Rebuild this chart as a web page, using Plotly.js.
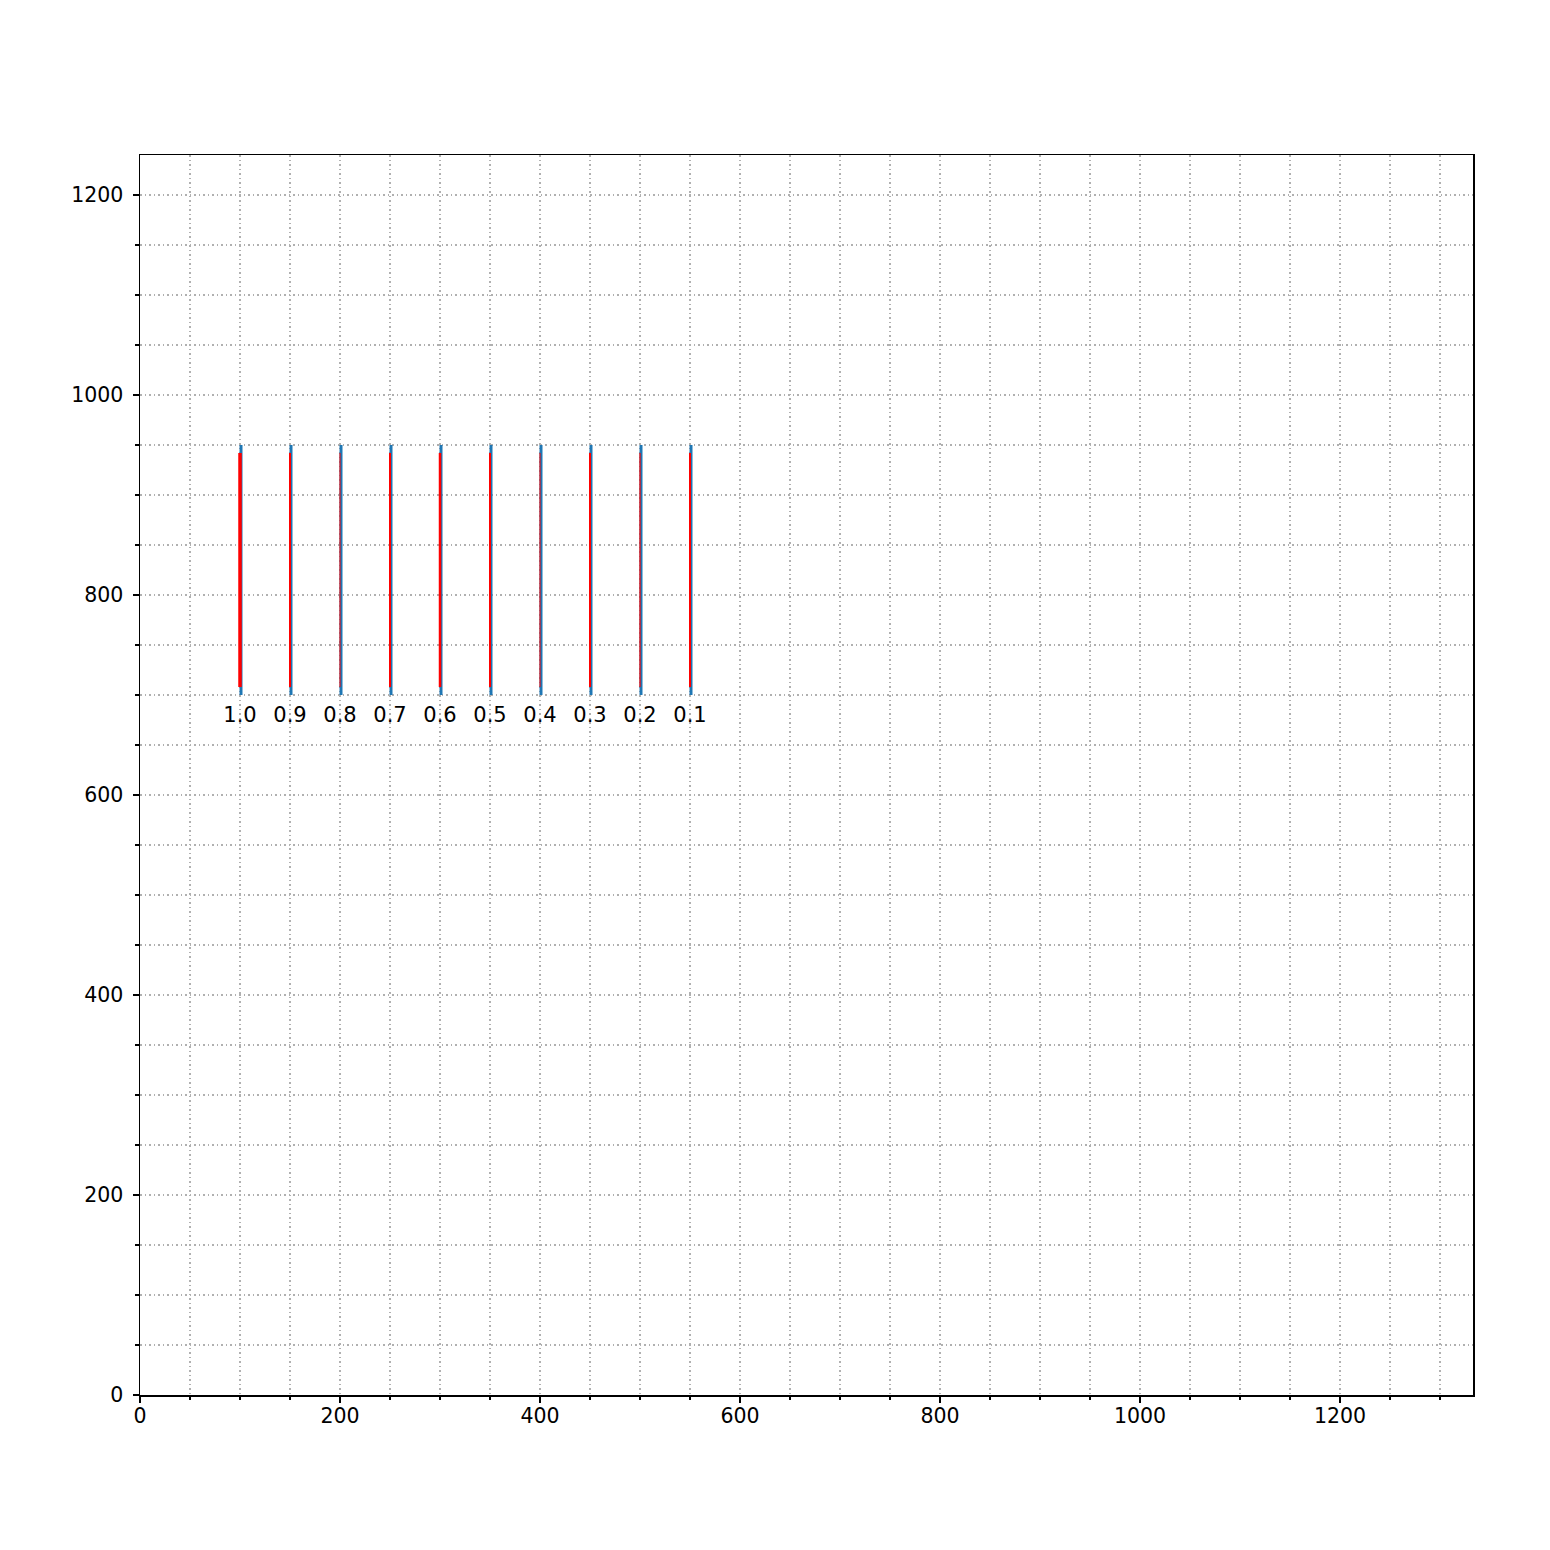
<!DOCTYPE html>
<html>
<head>
<meta charset="utf-8">
<script src="https://cdn.plot.ly/plotly-3.0.1.min.js"></script>
<style>
  html, body { margin: 0; padding: 0; background: #fff; }
</style>
</head>
<body>
<div id="chart" style="width:1550px;height:1550px;"></div>
<script>
// line positions and their labels
const linePositions = [100, 150, 200, 250, 300, 350, 400, 450, 500, 550];
const lineLabels = ["1.0", "0.9", "0.8", "0.7", "0.6", "0.5", "0.4", "0.3", "0.2", "0.1"];

// vertical extent of the blue (outer) and red (inner) segments
const blueSpan = [700, 950];
const redSpan = [708, 942];
const redWidths = [3.5, 2, 1, 2, 2.5, 2, 1, 2, 1.2, 2];

// label height
const labelY = 678;

// small pixel nudges so the strokes sit on whole pixels like the original
const blueNudge = 1;
const redNudge = 0;

const traces = [];

// blue segments, one trace with gaps
const bx = [], by = [];
linePositions.forEach(x => {
    bx.push(x + blueNudge, x + blueNudge, null);
    by.push(blueSpan[0], blueSpan[1], null);
});
traces.push({
    x: bx,
    y: by,
    mode: "lines",
    line: { color: "#1f77b4", width: 3 },
    hoverinfo: "skip"
});

// red segments, one per line since widths differ
linePositions.forEach((x, i) => {
    traces.push({
        x: [x + redNudge, x + redNudge],
        y: redSpan,
        mode: "lines",
        line: { color: "red", width: redWidths[i] },
        hoverinfo: "skip"
    });
});

// labels under each line
traces.push({
    x: linePositions,
    y: linePositions.map(() => labelY),
    mode: "text",
    text: lineLabels,
    textposition: "middle center",
    textfont: { family: "DejaVu Sans", size: 21, color: "black" },
    hoverinfo: "skip"
});

const gridStyle = {
    gridcolor: "#b0b0b0",
    griddash: "1.7px,2.8px",
    gridwidth: 1.4
};

const axisBase = {
    showline: true,
    mirror: true,
    linecolor: "black",
    linewidth: 1.5,
    zeroline: false,
    ticks: "outside",
    ticklen: 6,
    tickwidth: 1.5,
    tickcolor: "black",
    dtick: 200,
    tick0: 0,
    showgrid: true,
    ...gridStyle,
    tickfont: { family: "DejaVu Sans", size: 20.5, color: "black" },
    minor: {
        dtick: 50,
        tick0: 0,
        ticks: "outside",
        ticklen: 3.5,
        tickwidth: 1.2,
        tickcolor: "black",
        showgrid: true,
        ...gridStyle
    }
};

const layout = {
    width: 1550,
    height: 1550,
    margin: { l: 140, r: 77, t: 155, b: 155 },
    paper_bgcolor: "white",
    plot_bgcolor: "white",
    showlegend: false,
    xaxis: { ...axisBase, range: [0, 1333], ticklabelstandoff: -4 },
    yaxis: { ...axisBase, range: [0, 1240], ticklabelstandoff: 5 }
};

Plotly.newPlot("chart", traces, layout, { displayModeBar: false, staticPlot: true });
</script>
</body>
</html>
